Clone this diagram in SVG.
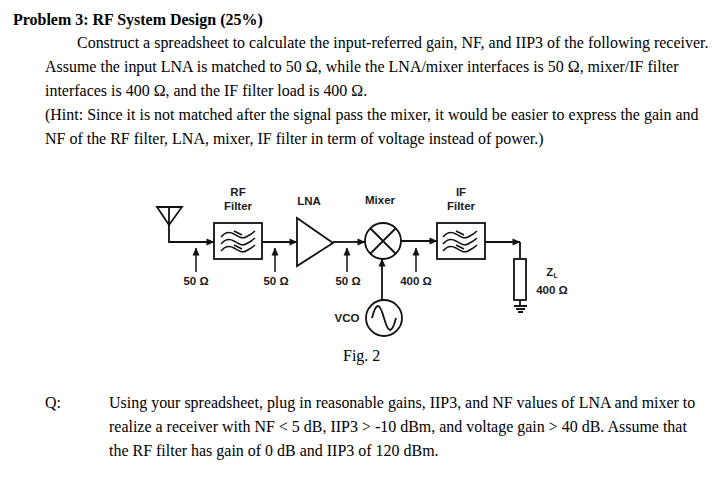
<svg xmlns="http://www.w3.org/2000/svg" width="727" height="479" viewBox="0 0 727 479">
<style>
.t{font-family:"Liberation Serif",serif;font-size:15.97px;fill:#000}
.b{font-weight:bold}
.l{font-family:"Liberation Sans",sans-serif;font-size:11.5px;font-weight:bold;fill:#1a1a1a;text-anchor:middle}
.s{fill:none;stroke:#111;stroke-width:1.8}
.w{fill:#fff;stroke:#111;stroke-width:1.8}
.c{fill:none;stroke:#111;stroke-width:1.8}
.a{fill:none;stroke:#111;stroke-width:1.5}
.r{fill:none;stroke:#111;stroke-width:1.5}
</style>
<defs>
<marker id="h" viewBox="0 0 8 8" refX="7.5" refY="4" markerWidth="9" markerHeight="8" markerUnits="userSpaceOnUse" orient="auto"><path d="M0,0.5L8,4L0,7.5Z" fill="#111"/></marker>
<g id="wv"><path class="r" d="M4,11c4,-5 8,-6 13,-3s8,5 12,3s6,-3 9,-6M4,18c4,-5 8,-6 13,-3s8,5 12,3s6,-3 9,-6M4,25c4,-5 8,-6 13,-3s8,5 12,3s6,-3 9,-6M17,5l8,4M17,19l8,4"/></g>
</defs>
<g id="text">
<text class="t b" x="13" y="24.500">Problem 3: RF System Design (25%)</text>
<text class="t" x="77" y="48">Construct a spreadsheet to calculate the input-referred gain, NF, and IIP3 of the following receiver.</text>
<text class="t" x="45" y="72">Assume the input LNA is matched to 50 Ω, while the LNA/mixer interfaces is 50 Ω, mixer/IF filter</text>
<text class="t" x="45" y="96">interfaces is 400 Ω, and the IF filter load is 400 Ω.</text>
<text class="t" x="45" y="120">(Hint: Since it is not matched after the signal pass the mixer, it would be easier to express the gain and</text>
<text class="t" x="45" y="144">NF of the RF filter, LNA, mixer, IF filter in term of voltage instead of power.)</text>
<text class="t" x="343" y="361">Fig. 2</text>
<text class="t" x="45" y="408">Q:</text>
<text class="t" x="109" y="408">Using your spreadsheet, plug in reasonable gains, IIP3, and NF values of LNA and mixer to</text>
<text class="t" x="109" y="432">realize a receiver with NF &lt; 5 dB, IIP3 &gt; -10 dBm, and voltage gain &gt; 40 dB. Assume that</text>
<text class="t" x="109" y="456">the RF filter has gain of 0 dB and IIP3 of 120 dBm.</text>
</g>
<g id="connectors">
<path class="c" d="M169,225V242H214" marker-end="url(#h)"/>
<path class="c" d="M262,242H297" marker-end="url(#h)"/>
<path class="c" d="M333,242H365" marker-end="url(#h)"/>
<path class="c" d="M401,241H437" marker-end="url(#h)"/>
<path class="c" d="M485,242H520" marker-end="url(#h)"/>
<path class="c" d="M520,242V259"/>
<path class="c" d="M520,300V306"/>
<path class="c" d="M382,300V259" marker-end="url(#h)"/>
<path class="a" d="M196,272V248" marker-end="url(#h)"/>
<path class="a" d="M275,272V248" marker-end="url(#h)"/>
<path class="a" d="M347,272V248" marker-end="url(#h)"/>
<path class="a" d="M416,272V248" marker-end="url(#h)"/>
</g>
<g id="antenna"><path class="s" d="M157,207H182L169,225ZM169,207V225"/></g>
<g id="rf-filter">
<text class="l" x="238" y="196">RF</text><text class="l" x="238" y="210">Filter</text>
<rect class="w" x="214" y="223" width="48" height="36"/><use href="#wv" x="217" y="226"/>
</g>
<g id="lna">
<text class="l" x="309" y="205">LNA</text>
<path class="w" d="M297,218V266L333,243Z"/>
</g>
<g id="mixer">
<text class="l" x="380" y="204">Mixer</text>
<circle class="w" cx="383" cy="241" r="18"/><path class="s" d="M370,228L396,254M396,228L370,254"/>
</g>
<g id="if-filter">
<text class="l" x="461" y="196">IF</text><text class="l" x="461" y="210">Filter</text>
<rect class="w" x="437" y="223" width="48" height="36"/><use href="#wv" x="439" y="226"/>
</g>
<g id="load">
<rect class="w" x="514" y="259" width="12" height="41"/>
<path class="s" d="M514,306H527M516,309H525M518,312H523"/>
<text class="l" x="552" y="276">Z<tspan font-size="7" dy="2">L</tspan></text>
<text class="l" x="552" y="294">400 Ω</text>
</g>
<g id="vco">
<text class="l" x="347" y="322">VCO</text>
<circle class="w" cx="384" cy="318" r="18"/>
<path class="s" d="M372,318c2,-8 4,-12 6,-12s4,5 6,12s4,12 6,12s4,-4 6,-12"/>
</g>
<g id="impedances">
<text class="l" x="196" y="285">50 Ω</text>
<text class="l" x="276" y="285">50 Ω</text>
<text class="l" x="348" y="285">50 Ω</text>
<text class="l" x="416" y="285">400 Ω</text>
</g>
</svg>
